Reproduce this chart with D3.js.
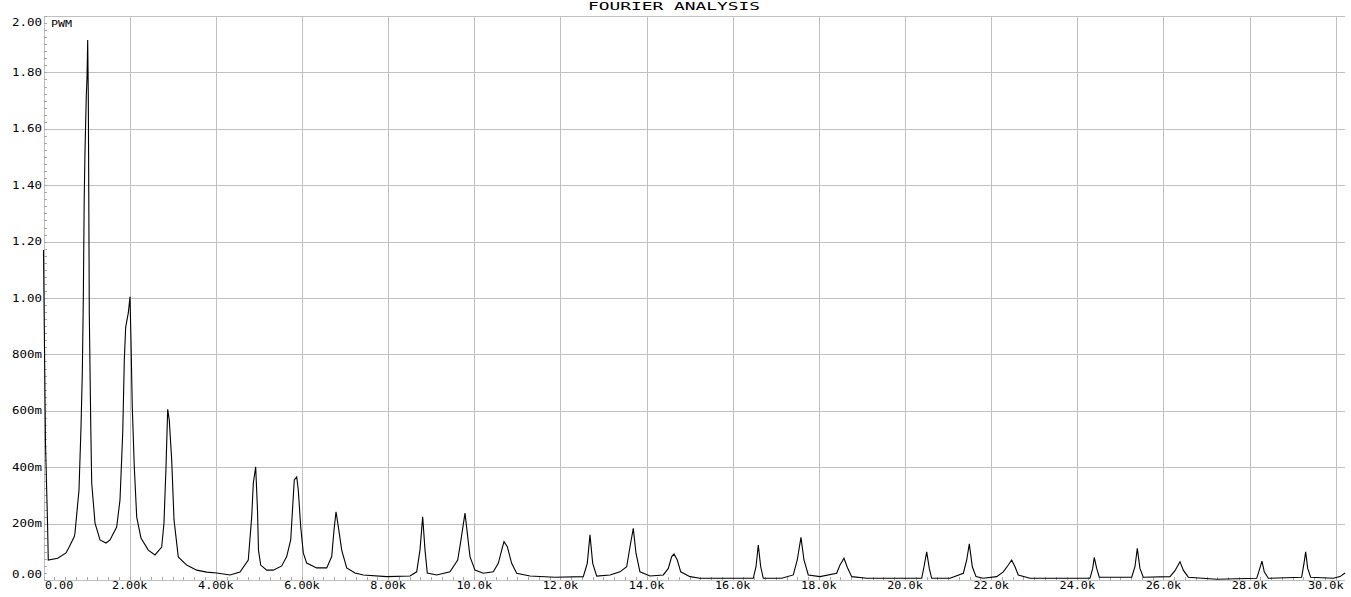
<!DOCTYPE html>
<html>
<head>
<meta charset="utf-8">
<script src="https://cdn.jsdelivr.net/npm/d3@7"></script>
<style>
  html, body { margin: 0; padding: 0; background: #fff; }
  svg { display: block; }
  text { font-family: "DejaVu Sans Mono", "Liberation Mono", monospace; fill: #000; }
</style>
</head>
<body>
<svg id="chart" width="1351" height="597"></svg>
<script>
const title = "FOURIER ANALYSIS";
const traceLabel = "PWM";

// frequency (Hz)
const freq = [0,46,93,111,330,522,599,715,731,824,871,901,924,945,963,994,1010,1026,1040,1052,1063,1096,1119,1196,1312,1451,1544,1699,1776,1839,1876,1908,1969,2008,2031,2061,2108,2164,2263,2433,2588,2744,2797,2844,2883,2920,2976,3030,3129,3324,3557,3789,4021,4330,4562,4754,4833,4871,4926,4968,4991,5042,5182,5335,5530,5646,5739,5785,5822,5878,5915,5971,6031,6110,6342,6575,6691,6744,6791,6844,6923,7039,7232,7424,7967,8508,8664,8740,8803,8857,8910,9128,9437,9616,9692,9785,9838,9901,10017,10210,10442,10558,10637,10691,10767,10869,10985,11294,11874,12531,12624,12687,12750,12843,13151,13383,13539,13616,13692,13755,13847,14080,14389,14505,14584,14637,14714,14793,15009,15241,16478,16541,16594,16650,16710,17137,17407,17499,17585,17655,17755,18027,18414,18491,18584,18660,18763,19111,20388,20441,20504,20564,20620,21045,21354,21433,21493,21563,21649,21817,22128,22282,22398,22477,22554,22630,22902,24295,24358,24394,24450,24511,25263,25339,25393,25455,25532,26152,26268,26384,26461,26577,27236,28165,28225,28288,28341,28434,29209,29263,29302,29349,29418,29943,30099,30215];
// amplitude (V)
const amp = [1.170,0.486,0.206,0.071,0.077,0.096,0.118,0.154,0.167,0.319,0.543,0.734,0.993,1.348,1.518,1.720,1.780,1.915,1.720,1.337,0.947,0.560,0.344,0.202,0.142,0.131,0.142,0.188,0.284,0.521,0.780,0.897,0.947,1.004,0.851,0.613,0.401,0.223,0.149,0.106,0.089,0.117,0.202,0.401,0.605,0.567,0.426,0.213,0.082,0.053,0.035,0.028,0.025,0.018,0.028,0.071,0.223,0.344,0.401,0.248,0.106,0.053,0.035,0.035,0.050,0.083,0.142,0.260,0.355,0.366,0.319,0.189,0.096,0.060,0.043,0.043,0.083,0.177,0.242,0.189,0.106,0.043,0.025,0.018,0.012,0.014,0.029,0.106,0.224,0.106,0.025,0.018,0.029,0.071,0.142,0.237,0.167,0.083,0.035,0.024,0.029,0.059,0.106,0.136,0.118,0.059,0.024,0.014,0.010,0.012,0.059,0.160,0.059,0.014,0.018,0.029,0.047,0.118,0.183,0.095,0.029,0.014,0.018,0.041,0.083,0.092,0.071,0.029,0.012,0.006,0.006,0.047,0.124,0.047,0.006,0.006,0.018,0.071,0.151,0.071,0.018,0.012,0.024,0.053,0.077,0.045,0.012,0.006,0.006,0.047,0.100,0.041,0.006,0.006,0.024,0.071,0.128,0.047,0.012,0.006,0.012,0.029,0.053,0.071,0.047,0.018,0.006,0.006,0.041,0.080,0.041,0.010,0.010,0.047,0.112,0.041,0.010,0.012,0.033,0.065,0.035,0.010,0.0025,0.006,0.035,0.067,0.029,0.006,0.010,0.059,0.100,0.041,0.010,0.006,0.012,0.025];

const xTickValues = [0,2000,4000,6000,8000,10000,12000,14000,16000,18000,20000,22000,24000,26000,28000,30000];
const xTickLabels = ["0.00","2.00k","4.00k","6.00k","8.00k","10.0k","12.0k","14.0k","16.0k","18.0k","20.0k","22.0k","24.0k","26.0k","28.0k","30.0k"];
const yTickValues = [0,0.2,0.4,0.6,0.8,1.0,1.2,1.4,1.6,1.8,2.0];
const yTickLabels = ["0.00","200m","400m","600m","800m","1.00","1.20","1.40","1.60","1.80","2.00"];

const svg = d3.select("#chart");
const L = 43.5, R = 1345, T = 16, B = 580;
const x = d3.scaleLinear().domain([0, 30215]).range([L, R]);
const y = d3.scaleLinear().domain([0, 2]).range([B, T]);
const grid = "#c0c0c0";

// grid lines
const xGrid = d3.axisBottom(x).tickValues(xTickValues).tickSize(-(B - T)).tickFormat("");
svg.append("g").attr("transform", `translate(0,${B})`).call(xGrid)
  .call(g => g.select(".domain").remove())
  .call(g => g.selectAll("line").attr("stroke", grid).attr("stroke-width", 1).attr("shape-rendering", "crispEdges"));
const yGrid = d3.axisLeft(y).tickValues(yTickValues).tickSize(-(R - L)).tickFormat("");
svg.append("g").attr("transform", `translate(${L},0)`).call(yGrid)
  .call(g => g.select(".domain").remove())
  .call(g => g.selectAll("line").attr("stroke", grid).attr("stroke-width", 1).attr("shape-rendering", "crispEdges"));

// minor ticks
const yMinor = d3.range(0, 81).map(i => i * 0.025);
const xMinor = d3.range(0, 121).map(i => i * 250);
svg.append("g").attr("transform", `translate(${L},0)`)
  .call(d3.axisRight(y).tickValues(yMinor).tickSize(3).tickFormat(""))
  .call(g => g.select(".domain").remove())
  .call(g => g.selectAll("line").attr("stroke", "#a8a8a8").attr("shape-rendering", "crispEdges"));
svg.append("g").attr("transform", `translate(0,${B})`)
  .call(d3.axisTop(x).tickValues(xMinor).tickSize(3).tickFormat(""))
  .call(g => g.select(".domain").remove())
  .call(g => g.selectAll("line").attr("stroke", "#a8a8a8").attr("shape-rendering", "crispEdges"));

// trace
const pts = freq.map((f, i) => [f, amp[i]]);
svg.append("path").datum(pts)
  .attr("fill", "none").attr("stroke", "#000").attr("stroke-width", 1.1)
  .attr("d", d3.line().x(d => x(d[0])).y(d => y(d[1])));

// y labels
yTickValues.forEach((v, i) => {
  let by = y(v) + 3.5;
  if (i === 0) by = B - 2;
  if (i === yTickValues.length - 1) by = T + 10;
  svg.append("text").attr("x", 12).attr("y", by)
    .attr("font-size", 10).attr("textLength", 30).attr("lengthAdjust", "spacingAndGlyphs")
    .text(yTickLabels[i]);
});

// x labels
xTickValues.forEach((v, i) => {
  const s = xTickLabels[i];
  const w = s.length * 7.3 - 1;
  let cx = x(v) - w / 2;
  if (cx < L + 1.5) cx = L + 1.5;
  if (cx + w > R - 1.5) cx = R - 1.5 - w;
  svg.append("text").attr("x", cx).attr("y", 589)
    .attr("font-size", 10).attr("textLength", w).attr("lengthAdjust", "spacingAndGlyphs")
    .text(s);
});

// title
svg.append("text").attr("x", 588).attr("y", 10)
  .attr("font-size", 10.5).attr("textLength", 172).attr("lengthAdjust", "spacingAndGlyphs")
  .text(title);

// trace label
svg.append("text").attr("x", 51).attr("y", 27)
  .attr("font-size", 8).attr("textLength", 21).attr("lengthAdjust", "spacingAndGlyphs")
  .text(traceLabel);
</script>
</body>
</html>
